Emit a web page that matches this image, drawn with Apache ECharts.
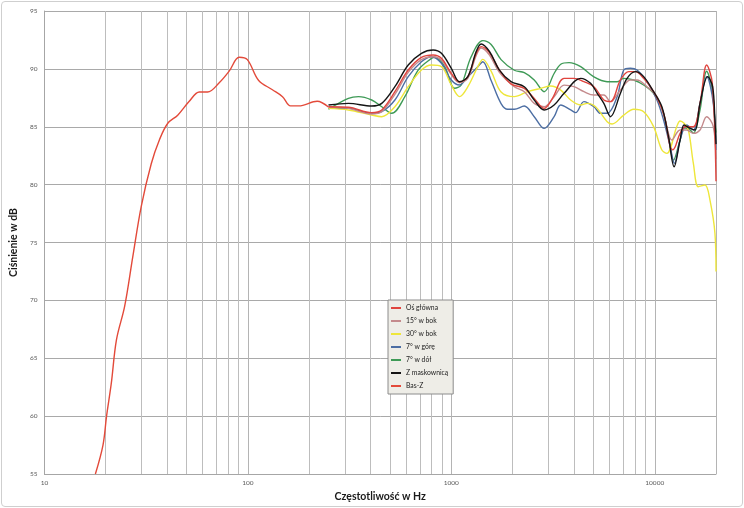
<!DOCTYPE html>
<html><head><meta charset="utf-8">
<script src="https://cdn.jsdelivr.net/npm/echarts@6/dist/echarts.min.js"></script>
<style>
html,body{margin:0;padding:0;background:#fff}
#c{width:744px;height:508px;position:absolute;left:0;top:0}
#frame{position:absolute;left:1px;top:1px;width:740px;height:504px;border:1px solid #cfcfcf;border-radius:4px;pointer-events:none}
</style></head>
<body><div id="c"></div><div id="frame"></div>
<script>
// ---- data (frequency in Hz, level in dB) ----
const basFreq = [17.8, 19.4, 20.2, 21.3, 22.6, 24.8, 27.2, 29.9, 33.5, 36.8, 40.4, 45.2, 51.5, 57.7, 63.4, 72.3, 80.9, 90.6, 99.4, 113, 132, 148, 162, 178, 219, 249];
const basDb   = [55.0, 57.5, 60.0, 62.8, 66.6, 69.5, 73.8, 78.1, 81.8, 83.9, 85.3, 86.0, 87.2, 88.0, 88.0, 88.8, 89.8, 91.0, 90.8, 89.0, 88.2, 87.6, 86.8, 86.8, 87.2, 86.7];

const osFreq = [249, 312, 406, 455, 528, 614, 713, 814, 894, 1000, 1098, 1206, 1325, 1402, 1540, 1723, 1965, 2284, 2556, 2860, 3141, 3583, 4010, 4487, 5022, 5621, 6058, 6781, 7447, 8028, 8820, 9870, 11050, 11910, 12270, 13320, 14100, 15480, 16690, 17990, 19180, 20000];
const osDb   = [86.73, 86.68, 86.22, 86.45, 88.03, 89.90, 90.99, 91.20, 90.91, 89.61, 88.89, 89.33, 91.34, 91.92, 91.4, 89.9, 88.7, 88.32, 87.45, 86.59, 87.45, 89.18, 89.18, 88.89, 88.46, 87.31, 87.17, 89.04, 89.76, 89.76, 89.18, 88.03, 86.16, 83.28, 83.0, 84.43, 85.0, 85.0, 87.02, 90.33, 88.75, 80.3];

const b15Freq = [249, 312, 406, 455, 528, 614, 713, 814, 894, 1000, 1098, 1206, 1325, 1402, 1540, 1723, 2040, 2284, 2556, 2860, 3201, 3583, 4010, 4487, 5022, 5621, 6058, 6781, 7589, 8180, 9157, 10250, 11250, 12130, 13320, 14360, 15480, 16690, 17990, 19400, 20000];
const b15Db   = [86.68, 86.59, 86.1, 86.3, 87.8, 89.7, 90.8, 91.05, 90.75, 89.5, 88.8, 89.2, 91.15, 91.8, 91.2, 89.7, 88.46, 88.03, 87.02, 86.73, 87.6, 88.6, 88.46, 88.03, 87.74, 87.74, 87.17, 88.17, 89.04, 89.04, 88.46, 87.6, 85.58, 83.85, 84.72, 84.72, 84.43, 84.72, 85.87, 85.0, 82.2];

const b30Freq = [249, 312, 406, 455, 528, 614, 713, 799, 894, 1000, 1098, 1206, 1350, 1428, 1569, 1756, 2040, 2371, 2755, 3083, 3451, 3862, 4323, 4660, 5117, 5835, 6172, 7040, 7879, 8820, 9870, 10840, 11470, 12820, 13320, 13940, 14630, 15480, 16380, 17660, 18680, 19760, 20000];
const b30Db   = [86.59, 86.45, 86.01, 85.87, 86.73, 88.46, 89.90, 90.33, 90.19, 88.61, 87.60, 88.46, 90.19, 90.82, 89.8, 88.0, 87.6, 88.03, 88.32, 88.52, 88.17, 87.31, 86.88, 87.02, 86.73, 85.44, 85.24, 86.01, 86.51, 86.30, 85.01, 82.99, 82.7, 85.0, 85.5, 85.3, 84.72, 81.84, 79.82, 79.97, 78.67, 75.8, 72.5];

const upFreq = [249, 312, 406, 455, 528, 614, 713, 799, 894, 1000, 1098, 1206, 1350, 1428, 1569, 1756, 1893, 2040, 2284, 2556, 2860, 3201, 3451, 3862, 4087, 4487, 5022, 5413, 5835, 6531, 7040, 7589, 8180, 9157, 10250, 11050, 11910, 12500, 13320, 14360, 15480, 16690, 17990, 19400, 20000];
const upDb   = [86.59, 86.59, 86.16, 86.30, 87.31, 89.33, 90.62, 91.05, 90.48, 89.04, 88.61, 89.33, 90.19, 90.62, 89.0, 87.0, 86.51, 86.51, 86.79, 85.87, 84.86, 85.87, 86.88, 86.45, 86.22, 87.17, 86.73, 86.16, 86.16, 87.6, 89.9, 90.05, 89.9, 88.89, 87.31, 85.58, 83.28, 81.84, 83.85, 85.15, 84.72, 87.02, 89.33, 87.02, 83.0];

const downFreq = [249, 312, 350, 406, 455, 509, 591, 687, 799, 829, 928, 1038, 1119, 1252, 1428, 1569, 1756, 2040, 2284, 2556, 2860, 3201, 3451, 3790, 4323, 5022, 5835, 6531, 7040, 7879, 8820, 9870, 10840, 11680, 12360, 13320, 13940, 14920, 15480, 16690, 17990, 19040, 19760, 20000];
const downDb   = [86.51, 87.45, 87.6, 87.31, 86.73, 86.16, 87.60, 89.90, 90.91, 91.0, 90.19, 88.32, 88.61, 91.05, 92.44, 92.1, 90.8, 89.88, 89.67, 89.04, 88.03, 89.6, 90.4, 90.54, 90.19, 89.3, 88.89, 88.89, 89.18, 89.04, 88.61, 87.89, 86.59, 84.2, 82.1, 83.85, 84.9, 84.72, 84.43, 86.45, 89.8, 88.5, 85.5, 84.5];

const maskFreq = [249, 312, 406, 455, 528, 614, 713, 814, 894, 1000, 1098, 1206, 1325, 1402, 1540, 1723, 1965, 2284, 2556, 2860, 3201, 3583, 4323, 4837, 5214, 5621, 6058, 6781, 7310, 8028, 8820, 9870, 10840, 11680, 12450, 13320, 13940, 14920, 15780, 16690, 18200, 19250, 19760, 20000];
const maskDb   = [86.88, 87.02, 86.79, 87.02, 88.46, 90.33, 91.34, 91.63, 91.34, 90.05, 88.89, 89.33, 91.49, 92.15, 91.5, 89.9, 88.9, 88.46, 87.31, 86.45, 86.88, 87.89, 89.18, 88.75, 87.89, 87.02, 85.87, 87.89, 89.18, 89.76, 89.33, 88.03, 86.73, 84.14, 81.55, 83.85, 85.15, 84.86, 84.72, 87.02, 89.33, 88.46, 85.58, 83.5];

const legendNames = ['Oś główna', '15° w bok', '30° w bok', '7° w górę', '7° w dół', 'Z maskownicą', 'Bas-Z'];
const xTickLabels = [10, 100, 1000, 10000];
const minorGridFreqs = [20,30,40,50,60,70,80,90,200,300,400,500,600,700,800,900,2000,3000,4000,5000,6000,7000,8000,9000];
const yTicks = {min: 55, max: 95, step: 5};

// ---- chart ----
const zip = (f, d) => f.map((v, i) => [v, d[i]]);
const FONT = 'Lato, "Open Sans", sans-serif';
function line(name, f, d, color, z) {
  return {
    name, type: 'line', data: zip(f, d), smooth: 0.35, showSymbol: false, symbol: 'none',
    color, lineStyle: {color, width: 1.4}, itemStyle: {color}, z: z || 3, silent: true
  };
}

const chart = echarts.init(document.getElementById('c'), null, {renderer: 'canvas'});
chart.setOption({
  animation: false,
  backgroundColor: 'transparent',
  textStyle: {fontFamily: FONT},
  grid: {left: 41, right: 28, top: 11, bottom: 34, containLabel: false},
  legend: {
    data: legendNames, orient: 'vertical', left: 388, top: 300, z: 10,
    icon: 'rect', itemWidth: 10, itemHeight: 2, itemGap: 3,
    textStyle: {fontSize: 6.8, lineHeight: 10, color: '#222', fontFamily: FONT},
    backgroundColor: '#eeede7', borderColor: '#8c8c8c', borderWidth: 1, padding: [3, 5, 3, 3],
    selectedMode: false
  },
  xAxis: {
    type: 'log', logBase: 10, min: 10, max: 20000,
    name: 'Częstotliwość w Hz', nameLocation: 'middle', nameGap: 12,
    nameTextStyle: {fontSize: 10.5, fontWeight: 'bold', color: '#1a1a1a', fontFamily: FONT},
    axisLine: {show: true, lineStyle: {color: '#a6a6a6', width: 1}},
    axisTick: {show: false},
    axisLabel: {fontSize: 6.5, color: '#595959', margin: 5, showMaxLabel: false,
      formatter: v => xTickLabels.indexOf(Math.round(v)) >= 0 ? String(Math.round(v)) : ''},
    splitLine: {show: true, lineStyle: {color: '#b4b4b4', width: 1}},
    minorTick: {show: false}, minorSplitLine: {show: false}
  },
  yAxis: {
    type: 'value', min: yTicks.min, max: yTicks.max, interval: yTicks.step,
    name: 'Ciśnienie w dB', nameLocation: 'middle', nameGap: 13, nameRotate: 90,
    nameTextStyle: {fontSize: 10.5, fontWeight: 'bold', color: '#1a1a1a', fontFamily: FONT},
    axisLine: {show: true, lineStyle: {color: '#a6a6a6', width: 1}},
    axisTick: {show: false},
    axisLabel: {fontSize: 6.5, color: '#595959', margin: 7},
    splitLine: {show: true, lineStyle: {color: '#a9a9a9', width: 1}}
  },
  series: [
    {
      name: 'grid', type: 'line', data: [], z: 1, silent: true, symbol: 'none',
      markLine: {
        z: 1, silent: true, symbol: 'none', animation: false, label: {show: false},
        lineStyle: {color: '#bdbdbd', width: 1, type: 'solid'},
        emphasis: {disabled: true},
        data: minorGridFreqs.map(v => ({xAxis: v}))
      }
    },
    line('Bas-Z', basFreq, basDb, '#e34a3a'),
    line('7° w dół', downFreq, downDb, '#3e9a56'),
    line('7° w górę', upFreq, upDb, '#4c6ea3'),
    line('30° w bok', b30Freq, b30Db, '#eee63a'),
    line('15° w bok', b15Freq, b15Db, '#c48a8c'),
    line('Oś główna', osFreq, osDb, '#e0453f'),
    line('Z maskownicą', maskFreq, maskDb, '#141414')
  ]
});
</script>
</body></html>
